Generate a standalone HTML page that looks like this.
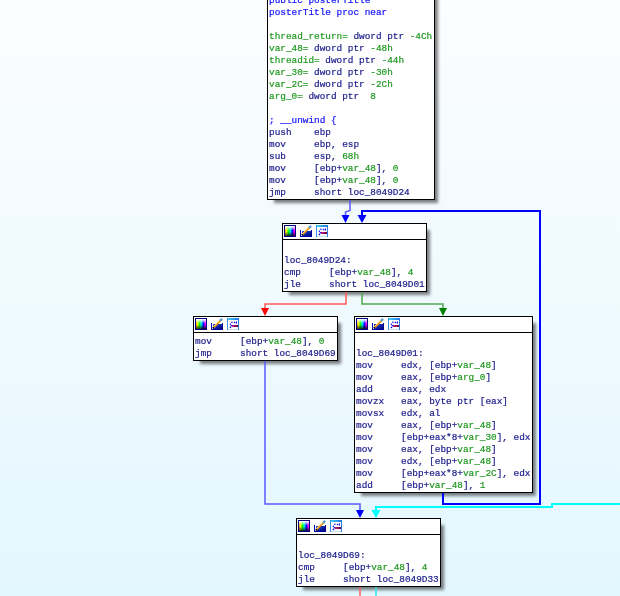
<!DOCTYPE html>
<html><head><meta charset="utf-8"><style>
html,body{margin:0;padding:0;}
body{width:620px;height:596px;overflow:hidden;position:relative;background:linear-gradient(to bottom,#fcfdff,#e3f7ff);}
.box{position:absolute;background:#fff;border:1px solid #000;box-shadow:5px 5px 3px -2px rgba(0,0,0,0.5);}
.sep{position:absolute;height:1px;background:#000;}
.icons{position:absolute;width:44px;height:12px;}
.ic{display:block;}
.t{position:absolute;margin:0;will-change:transform;font-family:"Liberation Mono",monospace;font-size:9.4px;line-height:12px;white-space:pre;color:#1a1a8a;-webkit-text-stroke:0.2px currentColor;}
.n{color:#1a1a8a;} .g{color:#1f971f;} .b{color:#1010ff;}
.edges{position:absolute;left:0;top:0;}
</style></head><body>
<div class="box" style="left:267px;top:-35.5px;width:166px;height:233.5px"></div>
<pre class="t" style="left:269px;top:-5.5px"><span class="b">public posterTitle</span>
<span class="b">posterTitle proc near</span>
 
<span class="g">thread_return=</span><span class="n"> dword ptr </span><span class="g">-4Ch</span>
<span class="g">var_48=</span><span class="n"> dword ptr </span><span class="g">-48h</span>
<span class="g">threadid=</span><span class="n"> dword ptr </span><span class="g">-44h</span>
<span class="g">var_30=</span><span class="n"> dword ptr </span><span class="g">-30h</span>
<span class="g">var_2C=</span><span class="n"> dword ptr </span><span class="g">-2Ch</span>
<span class="g">arg_0=</span><span class="n"> dword ptr  </span><span class="g">8</span>
 
<span class="b">; __unwind {</span>
<span class="n">push    ebp</span>
<span class="n">mov     ebp, esp</span>
<span class="n">sub     esp, </span><span class="g">68h</span>
<span class="n">mov     [ebp+</span><span class="g">var_48</span><span class="n">], </span><span class="g">0</span>
<span class="n">mov     [ebp+</span><span class="g">var_48</span><span class="n">], </span><span class="g">0</span>
<span class="n">jmp     short loc_8049D24</span></pre>
<div class="box" style="left:282px;top:223px;width:143px;height:67.0px"></div>
<div class="sep" style="left:282px;top:239px;width:145px"></div>
<div class="icons" style="left:284px;top:225px"><svg class="ic" width="44" height="12" viewBox="0 0 44 12">
<defs>
<linearGradient id="hue" x1="0" y1="0" x2="1" y2="0">
<stop offset="0" stop-color="#ff9020"/><stop offset="0.15" stop-color="#f0ff00"/><stop offset="0.36" stop-color="#00ff00"/><stop offset="0.52" stop-color="#00f0f0"/><stop offset="0.74" stop-color="#0010ff"/><stop offset="0.95" stop-color="#ff00ff"/><stop offset="1" stop-color="#ff20e0"/>
</linearGradient>
<linearGradient id="wb" x1="0" y1="0" x2="0" y2="1">
<stop offset="0" stop-color="#fff" stop-opacity="1"/><stop offset="0.12" stop-color="#fff" stop-opacity="0.8"/><stop offset="0.45" stop-color="#fff" stop-opacity="0"/><stop offset="0.55" stop-color="#000" stop-opacity="0"/><stop offset="1" stop-color="#000" stop-opacity="0.8"/>
</linearGradient>
<linearGradient id="tray" x1="0" y1="0" x2="1" y2="1">
<stop offset="0" stop-color="#1a50d8"/><stop offset="1" stop-color="#00007a"/>
</linearGradient>
<linearGradient id="bar" x1="0" y1="0" x2="1" y2="0">
<stop offset="0" stop-color="#d01a8a"/><stop offset="1" stop-color="#5a0040"/>
</linearGradient>
<linearGradient id="frm" x1="0" y1="0" x2="1" y2="0">
<stop offset="0" stop-color="#40d8ff"/><stop offset="1" stop-color="#2070e0"/>
</linearGradient>
</defs>
<g shape-rendering="crispEdges">
<rect x="0" y="0" width="12" height="12" fill="#000080"/>
<rect x="1" y="1" width="10" height="10" fill="url(#hue)"/>
<rect x="1" y="1" width="10" height="10" fill="url(#wb)"/>
<rect x="16" y="5" width="1" height="7" fill="#0000c0"/>
<rect x="27" y="5" width="1" height="7" fill="#00008a"/>
<rect x="16" y="11" width="12" height="1" fill="#0000a0"/>
<rect x="18" y="6" width="9" height="5" fill="url(#tray)"/>
<rect x="33" y="0" width="11" height="12" fill="#fff"/>
<rect x="32" y="0" width="12" height="2" fill="url(#frm)"/>
<rect x="32" y="0" width="1" height="12" fill="#3a8ee8"/>
<rect x="43" y="0" width="1" height="12" fill="#2a78e0"/>
<rect x="33" y="11" width="10" height="1" fill="#c8dcf4"/>
<rect x="37" y="7" width="6" height="2" fill="url(#bar)"/>
</g>
<path d="M18.2 9.8 L25.5 2.5" stroke="#f09018" stroke-width="2.1"/>
<path d="M17.9 9.2 L24.9 2.2" stroke="#ffe878" stroke-width="0.8"/>
<path d="M25.1 2.9 L27.1 0.9" stroke="#4a9ccc" stroke-width="2.2"/>
<rect x="17.6" y="8.9" width="1.5" height="1.5" fill="#000"/>
<g fill="#0000e8">
<circle cx="35.4" cy="6.3" r="0.8"/><circle cx="36.5" cy="7.7" r="0.8"/><circle cx="35.4" cy="9.4" r="0.8"/>
<circle cx="36.9" cy="4.3" r="0.8"/><circle cx="39.5" cy="4.4" r="0.75"/><rect x="40.8" y="3.4" width="1.1" height="2.2"/>
</g>
</svg></div>
<pre class="t" style="left:284px;top:242.5px"> 
<span class="n">loc_8049D24:</span>
<span class="n">cmp     [ebp+</span><span class="g">var_48</span><span class="n">], </span><span class="g">4</span>
<span class="n">jle     short loc_8049D01</span></pre>
<div class="box" style="left:193px;top:316px;width:143px;height:43.0px"></div>
<div class="sep" style="left:193px;top:332px;width:145px"></div>
<div class="icons" style="left:195px;top:318px"><svg class="ic" width="44" height="12" viewBox="0 0 44 12">
<defs>
<linearGradient id="hue" x1="0" y1="0" x2="1" y2="0">
<stop offset="0" stop-color="#ff9020"/><stop offset="0.15" stop-color="#f0ff00"/><stop offset="0.36" stop-color="#00ff00"/><stop offset="0.52" stop-color="#00f0f0"/><stop offset="0.74" stop-color="#0010ff"/><stop offset="0.95" stop-color="#ff00ff"/><stop offset="1" stop-color="#ff20e0"/>
</linearGradient>
<linearGradient id="wb" x1="0" y1="0" x2="0" y2="1">
<stop offset="0" stop-color="#fff" stop-opacity="1"/><stop offset="0.12" stop-color="#fff" stop-opacity="0.8"/><stop offset="0.45" stop-color="#fff" stop-opacity="0"/><stop offset="0.55" stop-color="#000" stop-opacity="0"/><stop offset="1" stop-color="#000" stop-opacity="0.8"/>
</linearGradient>
<linearGradient id="tray" x1="0" y1="0" x2="1" y2="1">
<stop offset="0" stop-color="#1a50d8"/><stop offset="1" stop-color="#00007a"/>
</linearGradient>
<linearGradient id="bar" x1="0" y1="0" x2="1" y2="0">
<stop offset="0" stop-color="#d01a8a"/><stop offset="1" stop-color="#5a0040"/>
</linearGradient>
<linearGradient id="frm" x1="0" y1="0" x2="1" y2="0">
<stop offset="0" stop-color="#40d8ff"/><stop offset="1" stop-color="#2070e0"/>
</linearGradient>
</defs>
<g shape-rendering="crispEdges">
<rect x="0" y="0" width="12" height="12" fill="#000080"/>
<rect x="1" y="1" width="10" height="10" fill="url(#hue)"/>
<rect x="1" y="1" width="10" height="10" fill="url(#wb)"/>
<rect x="16" y="5" width="1" height="7" fill="#0000c0"/>
<rect x="27" y="5" width="1" height="7" fill="#00008a"/>
<rect x="16" y="11" width="12" height="1" fill="#0000a0"/>
<rect x="18" y="6" width="9" height="5" fill="url(#tray)"/>
<rect x="33" y="0" width="11" height="12" fill="#fff"/>
<rect x="32" y="0" width="12" height="2" fill="url(#frm)"/>
<rect x="32" y="0" width="1" height="12" fill="#3a8ee8"/>
<rect x="43" y="0" width="1" height="12" fill="#2a78e0"/>
<rect x="33" y="11" width="10" height="1" fill="#c8dcf4"/>
<rect x="37" y="7" width="6" height="2" fill="url(#bar)"/>
</g>
<path d="M18.2 9.8 L25.5 2.5" stroke="#f09018" stroke-width="2.1"/>
<path d="M17.9 9.2 L24.9 2.2" stroke="#ffe878" stroke-width="0.8"/>
<path d="M25.1 2.9 L27.1 0.9" stroke="#4a9ccc" stroke-width="2.2"/>
<rect x="17.6" y="8.9" width="1.5" height="1.5" fill="#000"/>
<g fill="#0000e8">
<circle cx="35.4" cy="6.3" r="0.8"/><circle cx="36.5" cy="7.7" r="0.8"/><circle cx="35.4" cy="9.4" r="0.8"/>
<circle cx="36.9" cy="4.3" r="0.8"/><circle cx="39.5" cy="4.4" r="0.75"/><rect x="40.8" y="3.4" width="1.1" height="2.2"/>
</g>
</svg></div>
<pre class="t" style="left:195px;top:335.5px"><span class="n">mov     [ebp+</span><span class="g">var_48</span><span class="n">], </span><span class="g">0</span>
<span class="n">jmp     short loc_8049D69</span></pre>
<div class="box" style="left:354px;top:316px;width:177px;height:175.0px"></div>
<div class="sep" style="left:354px;top:332px;width:179px"></div>
<div class="icons" style="left:356px;top:318px"><svg class="ic" width="44" height="12" viewBox="0 0 44 12">
<defs>
<linearGradient id="hue" x1="0" y1="0" x2="1" y2="0">
<stop offset="0" stop-color="#ff9020"/><stop offset="0.15" stop-color="#f0ff00"/><stop offset="0.36" stop-color="#00ff00"/><stop offset="0.52" stop-color="#00f0f0"/><stop offset="0.74" stop-color="#0010ff"/><stop offset="0.95" stop-color="#ff00ff"/><stop offset="1" stop-color="#ff20e0"/>
</linearGradient>
<linearGradient id="wb" x1="0" y1="0" x2="0" y2="1">
<stop offset="0" stop-color="#fff" stop-opacity="1"/><stop offset="0.12" stop-color="#fff" stop-opacity="0.8"/><stop offset="0.45" stop-color="#fff" stop-opacity="0"/><stop offset="0.55" stop-color="#000" stop-opacity="0"/><stop offset="1" stop-color="#000" stop-opacity="0.8"/>
</linearGradient>
<linearGradient id="tray" x1="0" y1="0" x2="1" y2="1">
<stop offset="0" stop-color="#1a50d8"/><stop offset="1" stop-color="#00007a"/>
</linearGradient>
<linearGradient id="bar" x1="0" y1="0" x2="1" y2="0">
<stop offset="0" stop-color="#d01a8a"/><stop offset="1" stop-color="#5a0040"/>
</linearGradient>
<linearGradient id="frm" x1="0" y1="0" x2="1" y2="0">
<stop offset="0" stop-color="#40d8ff"/><stop offset="1" stop-color="#2070e0"/>
</linearGradient>
</defs>
<g shape-rendering="crispEdges">
<rect x="0" y="0" width="12" height="12" fill="#000080"/>
<rect x="1" y="1" width="10" height="10" fill="url(#hue)"/>
<rect x="1" y="1" width="10" height="10" fill="url(#wb)"/>
<rect x="16" y="5" width="1" height="7" fill="#0000c0"/>
<rect x="27" y="5" width="1" height="7" fill="#00008a"/>
<rect x="16" y="11" width="12" height="1" fill="#0000a0"/>
<rect x="18" y="6" width="9" height="5" fill="url(#tray)"/>
<rect x="33" y="0" width="11" height="12" fill="#fff"/>
<rect x="32" y="0" width="12" height="2" fill="url(#frm)"/>
<rect x="32" y="0" width="1" height="12" fill="#3a8ee8"/>
<rect x="43" y="0" width="1" height="12" fill="#2a78e0"/>
<rect x="33" y="11" width="10" height="1" fill="#c8dcf4"/>
<rect x="37" y="7" width="6" height="2" fill="url(#bar)"/>
</g>
<path d="M18.2 9.8 L25.5 2.5" stroke="#f09018" stroke-width="2.1"/>
<path d="M17.9 9.2 L24.9 2.2" stroke="#ffe878" stroke-width="0.8"/>
<path d="M25.1 2.9 L27.1 0.9" stroke="#4a9ccc" stroke-width="2.2"/>
<rect x="17.6" y="8.9" width="1.5" height="1.5" fill="#000"/>
<g fill="#0000e8">
<circle cx="35.4" cy="6.3" r="0.8"/><circle cx="36.5" cy="7.7" r="0.8"/><circle cx="35.4" cy="9.4" r="0.8"/>
<circle cx="36.9" cy="4.3" r="0.8"/><circle cx="39.5" cy="4.4" r="0.75"/><rect x="40.8" y="3.4" width="1.1" height="2.2"/>
</g>
</svg></div>
<pre class="t" style="left:356px;top:335.5px"> 
<span class="n">loc_8049D01:</span>
<span class="n">mov     edx, [ebp+</span><span class="g">var_48</span><span class="n">]</span>
<span class="n">mov     eax, [ebp+</span><span class="g">arg_0</span><span class="n">]</span>
<span class="n">add     eax, edx</span>
<span class="n">movzx   eax, byte ptr [eax]</span>
<span class="n">movsx   edx, al</span>
<span class="n">mov     eax, [ebp+</span><span class="g">var_48</span><span class="n">]</span>
<span class="n">mov     [ebp+eax*8+</span><span class="g">var_30</span><span class="n">], edx</span>
<span class="n">mov     eax, [ebp+</span><span class="g">var_48</span><span class="n">]</span>
<span class="n">mov     edx, [ebp+</span><span class="g">var_48</span><span class="n">]</span>
<span class="n">mov     [ebp+eax*8+</span><span class="g">var_2C</span><span class="n">], edx</span>
<span class="n">add     [ebp+</span><span class="g">var_48</span><span class="n">], </span><span class="g">1</span></pre>
<div class="box" style="left:296px;top:518px;width:143px;height:67.0px"></div>
<div class="sep" style="left:296px;top:534px;width:145px"></div>
<div class="icons" style="left:298px;top:520px"><svg class="ic" width="44" height="12" viewBox="0 0 44 12">
<defs>
<linearGradient id="hue" x1="0" y1="0" x2="1" y2="0">
<stop offset="0" stop-color="#ff9020"/><stop offset="0.15" stop-color="#f0ff00"/><stop offset="0.36" stop-color="#00ff00"/><stop offset="0.52" stop-color="#00f0f0"/><stop offset="0.74" stop-color="#0010ff"/><stop offset="0.95" stop-color="#ff00ff"/><stop offset="1" stop-color="#ff20e0"/>
</linearGradient>
<linearGradient id="wb" x1="0" y1="0" x2="0" y2="1">
<stop offset="0" stop-color="#fff" stop-opacity="1"/><stop offset="0.12" stop-color="#fff" stop-opacity="0.8"/><stop offset="0.45" stop-color="#fff" stop-opacity="0"/><stop offset="0.55" stop-color="#000" stop-opacity="0"/><stop offset="1" stop-color="#000" stop-opacity="0.8"/>
</linearGradient>
<linearGradient id="tray" x1="0" y1="0" x2="1" y2="1">
<stop offset="0" stop-color="#1a50d8"/><stop offset="1" stop-color="#00007a"/>
</linearGradient>
<linearGradient id="bar" x1="0" y1="0" x2="1" y2="0">
<stop offset="0" stop-color="#d01a8a"/><stop offset="1" stop-color="#5a0040"/>
</linearGradient>
<linearGradient id="frm" x1="0" y1="0" x2="1" y2="0">
<stop offset="0" stop-color="#40d8ff"/><stop offset="1" stop-color="#2070e0"/>
</linearGradient>
</defs>
<g shape-rendering="crispEdges">
<rect x="0" y="0" width="12" height="12" fill="#000080"/>
<rect x="1" y="1" width="10" height="10" fill="url(#hue)"/>
<rect x="1" y="1" width="10" height="10" fill="url(#wb)"/>
<rect x="16" y="5" width="1" height="7" fill="#0000c0"/>
<rect x="27" y="5" width="1" height="7" fill="#00008a"/>
<rect x="16" y="11" width="12" height="1" fill="#0000a0"/>
<rect x="18" y="6" width="9" height="5" fill="url(#tray)"/>
<rect x="33" y="0" width="11" height="12" fill="#fff"/>
<rect x="32" y="0" width="12" height="2" fill="url(#frm)"/>
<rect x="32" y="0" width="1" height="12" fill="#3a8ee8"/>
<rect x="43" y="0" width="1" height="12" fill="#2a78e0"/>
<rect x="33" y="11" width="10" height="1" fill="#c8dcf4"/>
<rect x="37" y="7" width="6" height="2" fill="url(#bar)"/>
</g>
<path d="M18.2 9.8 L25.5 2.5" stroke="#f09018" stroke-width="2.1"/>
<path d="M17.9 9.2 L24.9 2.2" stroke="#ffe878" stroke-width="0.8"/>
<path d="M25.1 2.9 L27.1 0.9" stroke="#4a9ccc" stroke-width="2.2"/>
<rect x="17.6" y="8.9" width="1.5" height="1.5" fill="#000"/>
<g fill="#0000e8">
<circle cx="35.4" cy="6.3" r="0.8"/><circle cx="36.5" cy="7.7" r="0.8"/><circle cx="35.4" cy="9.4" r="0.8"/>
<circle cx="36.9" cy="4.3" r="0.8"/><circle cx="39.5" cy="4.4" r="0.75"/><rect x="40.8" y="3.4" width="1.1" height="2.2"/>
</g>
</svg></div>
<pre class="t" style="left:298px;top:537.5px"> 
<span class="n">loc_8049D69:</span>
<span class="n">cmp     [ebp+</span><span class="g">var_48</span><span class="n">], </span><span class="g">4</span>
<span class="n">jle     short loc_8049D33</span></pre>
<svg class="edges" width="620" height="596" viewBox="0 0 620 596">
<g fill="none" stroke-linejoin="miter" stroke-linecap="butt">
<polyline points="350,200 350,210.5 345.5,212 345.5,216" stroke="#5a5aff" stroke-width="1.5"/>
<polyline points="443,493 443,504 540,504 540,211 362,211 362,216" stroke="#0000ff" stroke-width="2"/>
<polyline points="346,292 346,304 265,304 265,309" stroke="#ff5a5a" stroke-width="1.5"/>
<polyline points="362,292 362,304 443,304 443,309" stroke="#50a850" stroke-width="1.5"/>
<polyline points="265,361 265,504 360,504 360,511" stroke="#5a5aff" stroke-width="1.5"/>
<polyline points="620,504 552,504 552,507 376,507 376,511" stroke="#00ffff" stroke-width="2"/>
<polyline points="360,587 360,596" stroke="#ff6060" stroke-width="1.5"/>
<polyline points="376,587 376,596" stroke="#30e8e8" stroke-width="1.5"/>
</g>
<g>
<path d="M341.5,215 L349.5,215 L345.5,223 Z" fill="#0000ff"/>
<path d="M357.5,215 L366.5,215 L362,223 Z" fill="#0000ff"/>
<path d="M261,308 L269,308 L265,316 Z" fill="#ff0000"/>
<path d="M439,308 L447,308 L443,316 Z" fill="#008000"/>
<path d="M356,510 L364,510 L360,518 Z" fill="#0000ff"/>
<path d="M371.5,510 L380.5,510 L376,518 Z" fill="#00ffff"/>
</g>
</svg>
</body></html>
